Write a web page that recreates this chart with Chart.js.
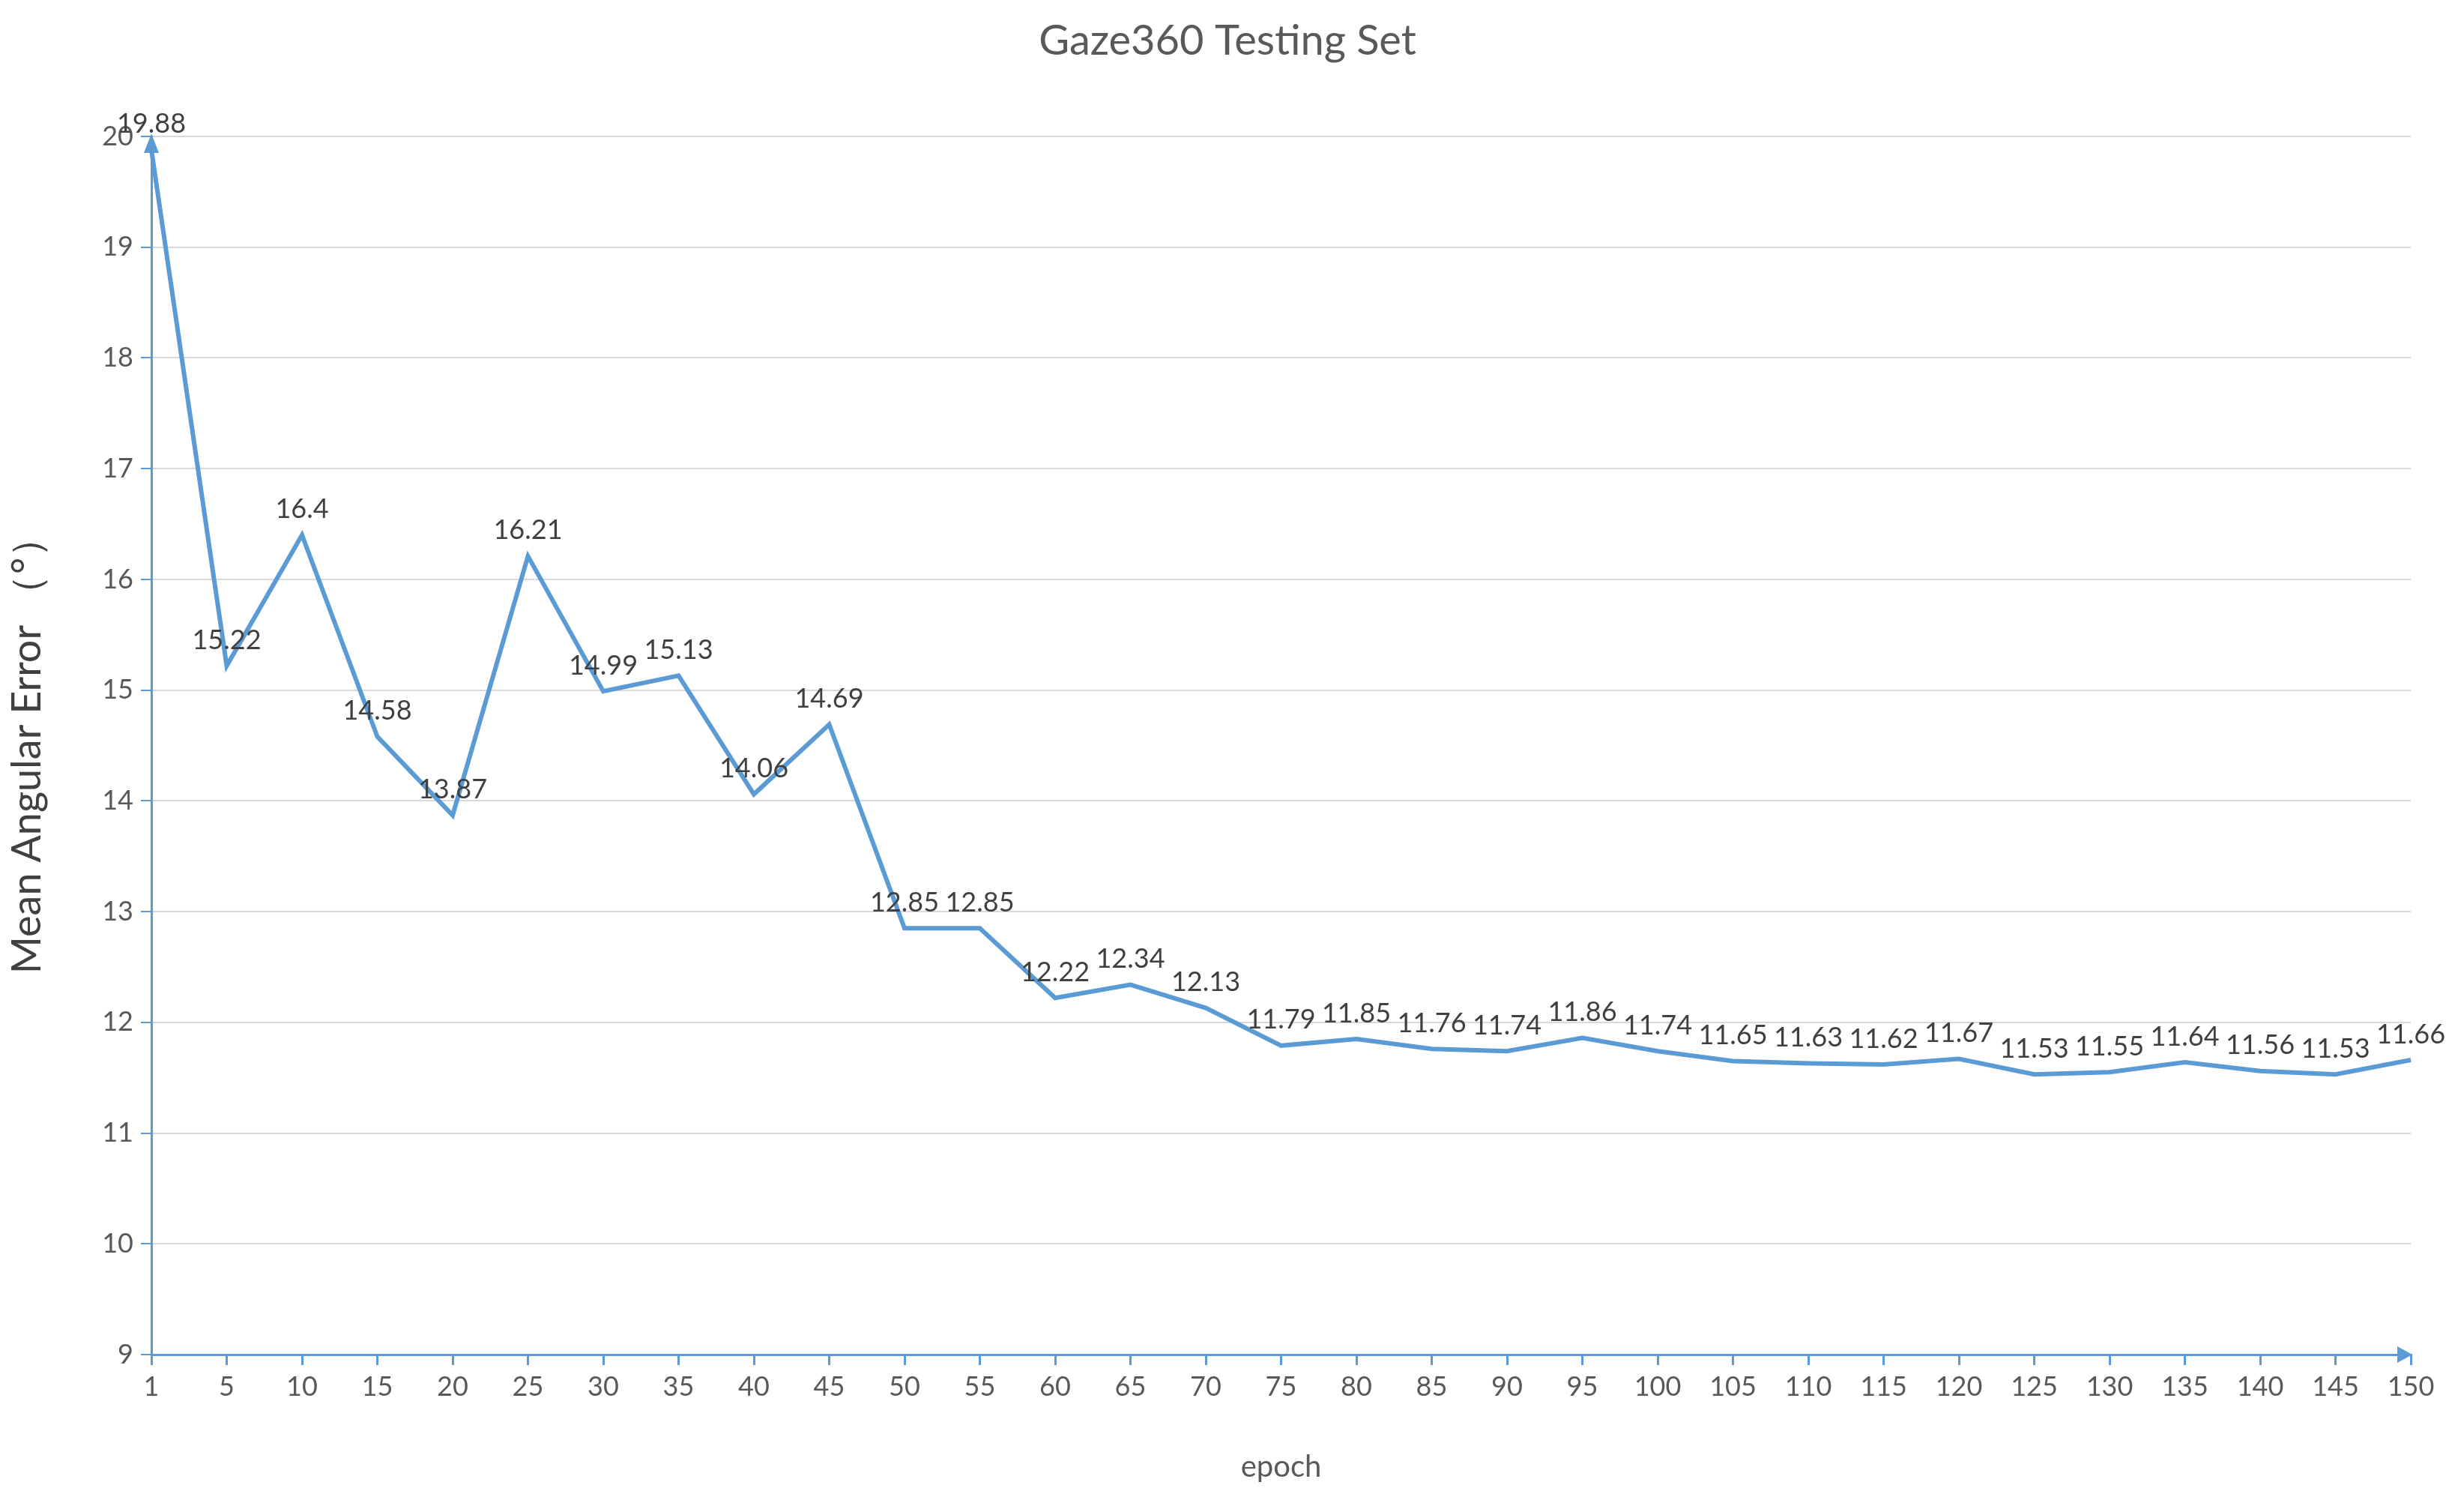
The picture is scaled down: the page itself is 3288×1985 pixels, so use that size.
<!DOCTYPE html>
<html><head><meta charset="utf-8">
<script src="https://cdn.jsdelivr.net/npm/chart.js@4"></script>
<style>html,body{margin:0;padding:0;background:#fff}#w{width:3288px;height:1985px}</style>
</head><body><div id="w"><canvas id="c"></canvas></div>
<script>
const epochs = ['1','5','10','15','20','25','30','35','40','45','50','55','60','65','70','75','80','85','90','95','100','105','110','115','120','125','130','135','140','145','150'];
const errors = [19.88,15.22,16.4,14.58,13.87,16.21,14.99,15.13,14.06,14.69,12.85,12.85,12.22,12.34,12.13,11.79,11.85,11.76,11.74,11.86,11.74,11.65,11.63,11.62,11.67,11.53,11.55,11.64,11.56,11.53,11.66];
const titleText = 'Gaze360 Testing Set';
const yTitle = 'Mean Angular Error （°）';
const xTitle = 'epoch';
const BLUE = '#5B9BD5';
const FONT = 'Lato, "Open Sans", sans-serif';

const deco = {
  id: 'deco',
  afterDraw(chart) {
    const ctx = chart.ctx, a = chart.chartArea;
    ctx.save();
    ctx.fillStyle = BLUE;
    ctx.beginPath(); ctx.moveTo(a.left, a.top - 4); ctx.lineTo(a.left - 10, a.top + 22); ctx.lineTo(a.left + 10, a.top + 22); ctx.closePath(); ctx.fill();
    ctx.beginPath(); ctx.moveTo(a.right + 2, a.bottom); ctx.lineTo(a.right - 18, a.bottom - 11); ctx.lineTo(a.right - 18, a.bottom + 11); ctx.closePath(); ctx.fill();
    ctx.fillStyle = '#595959'; ctx.textAlign = 'center'; ctx.textBaseline = 'middle';
    ctx.font = '56px ' + FONT;
    ctx.fillText(titleText, 1638, 55);
    const meta = chart.getDatasetMeta(0);
    ctx.fillStyle = '#404040'; ctx.font = '36px ' + FONT; ctx.textBaseline = 'bottom';
    meta.data.forEach((p, i) => ctx.fillText(String(errors[i]), p.x, p.y - 16));
    ctx.restore();
  }
};

new Chart(document.getElementById('c'), {
  type: 'line',
  data: { labels: epochs, datasets: [{ data: errors, borderColor: BLUE, borderWidth: 6, pointRadius: 0, tension: 0, clip: false }] },
  options: {
    responsive: true, maintainAspectRatio: false, animation: false,
    layout: { padding: { top: 182, right: 71, left: 0, bottom: 0 } },
    plugins: { legend: { display: false }, tooltip: { enabled: false } },
    scales: {
      x: {
        offset: false,
        grid: { drawOnChartArea: false, drawTicks: true, tickLength: 14, tickColor: BLUE, lineWidth: 3 },
        border: { color: BLUE, width: 3 },
        ticks: { color: '#595959', font: { size: 36, family: FONT }, maxRotation: 0, autoSkip: false, padding: 8 },
        title: { display: true, text: xTitle, color: '#595959', font: { size: 40, family: FONT }, padding: { top: 14 } },
        afterFit(s) { s.height = 178; }
      },
      y: {
        min: 9, max: 20,
        grid: { color: '#d9d9d9', lineWidth: 2, tickLength: 14, tickColor: BLUE },
        border: { color: BLUE, width: 3 },
        ticks: { stepSize: 1, color: '#595959', font: { size: 36, family: FONT }, padding: 10 },
        title: { display: true, text: yTitle, color: '#404040', font: { size: 54, family: FONT }, padding: { bottom: 30 } },
        afterFit(s) { s.width = 202; }
      }
    }
  },
  plugins: [deco]
});
</script></body></html>
